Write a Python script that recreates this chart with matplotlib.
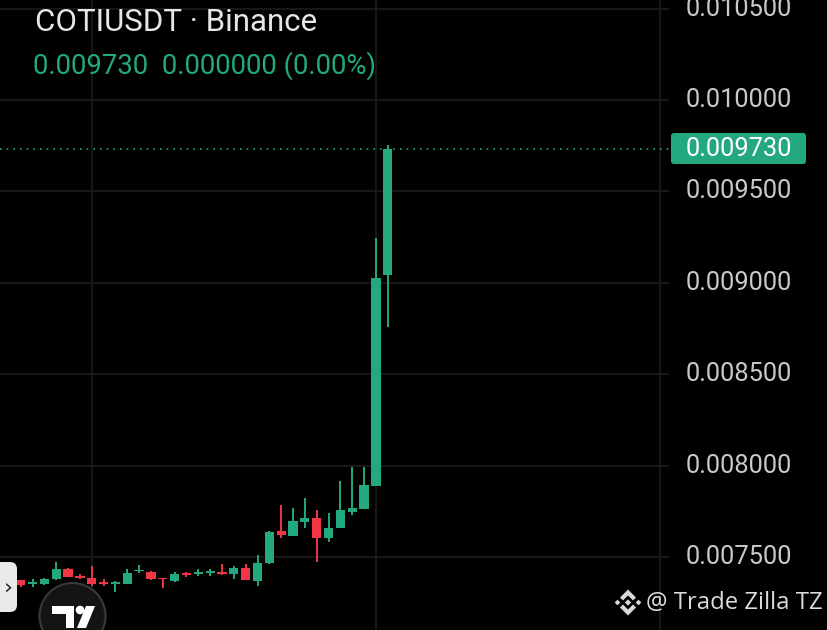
import numpy as np
import matplotlib.pyplot as plt
from matplotlib.patches import FancyBboxPatch, Circle, Polygon
import matplotlib.transforms as mtransforms

# candle data (5m bars)
opens  = [0.007374, 0.007355, 0.007351, 0.007380, 0.007433, 0.007398, 0.007387, 0.007365,
          0.007355, 0.007351, 0.007422, 0.007420, 0.007381, 0.007370, 0.007411, 0.007410,
          0.007415, 0.007416, 0.007405, 0.007438, 0.007370, 0.007466, 0.007644, 0.007617,
          0.007693, 0.007712, 0.007602, 0.007659, 0.007748, 0.007763, 0.007890, 0.009043]
highs  = [0.007376, 0.007378, 0.007383, 0.007471, 0.007440, 0.007405, 0.007451, 0.007378,
          0.007369, 0.007434, 0.007456, 0.007424, 0.007381, 0.007416, 0.007416, 0.007434,
          0.007434, 0.007462, 0.007451, 0.007462, 0.007511, 0.007642, 0.007784, 0.007770,
          0.007821, 0.007757, 0.007739, 0.007917, 0.007991, 0.007991, 0.009243, 0.009754]
lows   = [0.007338, 0.007338, 0.007348, 0.007374, 0.007390, 0.007378, 0.007343, 0.007341,
          0.007310, 0.007351, 0.007411, 0.007375, 0.007332, 0.007365, 0.007390, 0.007396,
          0.007398, 0.007402, 0.007380, 0.007372, 0.007343, 0.007464, 0.007602, 0.007617,
          0.007657, 0.007474, 0.007580, 0.007657, 0.007730, 0.007763, 0.007890, 0.008760]
closes = [0.007347, 0.007357, 0.007380, 0.007433, 0.007392, 0.007387, 0.007351, 0.007352,
          0.007357, 0.007414, 0.007424, 0.007380, 0.007379, 0.007405, 0.007400, 0.007412,
          0.007417, 0.007405, 0.007438, 0.007374, 0.007466, 0.007638, 0.007620, 0.007697,
          0.007712, 0.007602, 0.007659, 0.007757, 0.007766, 0.007894, 0.009025, 0.009730]

price_ticks = [0.0075, 0.0080, 0.0085, 0.0090, 0.0095, 0.0100, 0.0105]
time_grid = [6, 30, 54]   # bar indices where vertical grid lines fall
last_price = 0.009730

GREEN = '#23a880'
RED = '#f23645'
GRID = '#1c1c1c'
LABEL = '#c9c9c9'

fig = plt.figure(figsize=(8.28, 6.3), dpi=100, facecolor='black')
ax = fig.add_axes([0, 0, 1, 1])
ax.set_facecolor('black')
ax.set_xlim(-1.748, 68.18)
ax.set_ylim(0.007101, 0.010547)
ax.axis('off')

plot_right = 668 / 828  # end of the chart pane in axes fraction

# grid
for p in price_ticks:
    ax.axhline(p, xmin=0, xmax=plot_right, color=GRID, lw=1.2, zorder=0)
for t in time_grid:
    ax.axvline(t, color=GRID, lw=1.2, zorder=0)

# candles
x = np.arange(len(opens))
o = np.array(opens); c = np.array(closes)
h = np.array(highs); l = np.array(lows)
cols = [GREEN if cc >= oo else RED for oo, cc in zip(o, c)]
ax.vlines(x, l, h, colors=cols, lw=1.4, zorder=2)
body_low = np.minimum(o, c)
body_h = np.maximum(np.abs(c - o), 0.000009)
ax.bar(x, body_h, bottom=body_low, width=0.78, color=cols, zorder=3, linewidth=0)

# last price line
ax.axhline(last_price, xmin=0, xmax=plot_right + 0.003, color=GREEN, lw=1.2,
           ls=(0, (1, 3)), zorder=1)

# price scale labels
trans = mtransforms.blended_transform_factory(ax.transAxes, ax.transData)
for p in price_ticks:
    ax.text(739 / 828, p, f'{p:.6f}', transform=trans, ha='center', va='center',
            color=LABEL, fontsize=18.3, family='Roboto')

# overlay in pixel coordinates for the decorations
ov = fig.add_axes([0, 0, 1, 1], facecolor='none')
ov.set_xlim(0, 828)
ov.set_ylim(630, 0)
ov.axis('off')

# last price badge
ov.add_patch(FancyBboxPatch((671, 133), 135, 31, boxstyle='round,pad=0,rounding_size=3',
                            fc=GREEN, ec='none'))
ov.text(738.5, 149, f'{last_price:.6f}', ha='center', va='center', color='white',
        fontsize=18.3, family='Roboto')

# header
ov.text(35, 22.5, 'COTIUSDT · Binance', ha='left', va='center', color='#e6e6e6',
        fontsize=22.5, family='Roboto')
ov.text(33, 65.5, '0.009730  0.000000 (0.00%)', ha='left', va='center', color=GREEN,
        fontsize=19.8, family='Roboto')

# left arrow button
ov.add_patch(FancyBboxPatch((-8, 562), 25, 50, boxstyle='round,pad=0,rounding_size=7',
                            fc='#e9e9e9', ec='none'))
ov.text(8, 587, '›', ha='center', va='center', color='#222222', fontsize=16,
        family='DejaVu Sans')

# TradingView logo
ov.add_patch(Circle((72.5, 616), 33, fc='#141414', ec='#3a3a3a', lw=1.5))
ov.add_patch(Polygon([(52, 606), (74, 606), (74, 628), (66, 628), (66, 614), (52, 614)],
                     closed=True, fc='white', ec='none'))
ov.add_patch(Circle((80, 610), 4.3, fc='white', ec='none'))
ov.add_patch(Polygon([(86, 606), (95, 606), (86, 628), (77, 628)], closed=True,
                     fc='white', ec='none'))

# watermark with binance-like logo
cx, cy = 628, 602.5
LOGO = '#d8d8d8'
def diamond(xc, yc, r):
    return Polygon([(xc, yc - r), (xc + r, yc), (xc, yc + r), (xc - r, yc)],
                   closed=True, fc=LOGO, ec='none')
ov.add_patch(diamond(cx, cy, 3.2))
ov.add_patch(diamond(cx - 10.5, cy, 2.8))
ov.add_patch(diamond(cx + 10.5, cy, 2.8))
# top and bottom chevrons
ov.add_patch(Polygon([(cx, cy - 13), (cx + 8, cy - 5), (cx + 5, cy - 2), (cx, cy - 7),
                      (cx - 5, cy - 2), (cx - 8, cy - 5)], closed=True, fc=LOGO, ec='none'))
ov.add_patch(Polygon([(cx, cy + 13), (cx + 8, cy + 5), (cx + 5, cy + 2), (cx, cy + 7),
                      (cx - 5, cy + 2), (cx - 8, cy + 5)], closed=True, fc=LOGO, ec='none'))
ov.text(646, 603, '@ Trade Zilla TZ', ha='left', va='center', color='#dcdcdc',
        fontsize=17.2, family='Open Sans')

fig.savefig('out.png', dpi=100, facecolor='black')
